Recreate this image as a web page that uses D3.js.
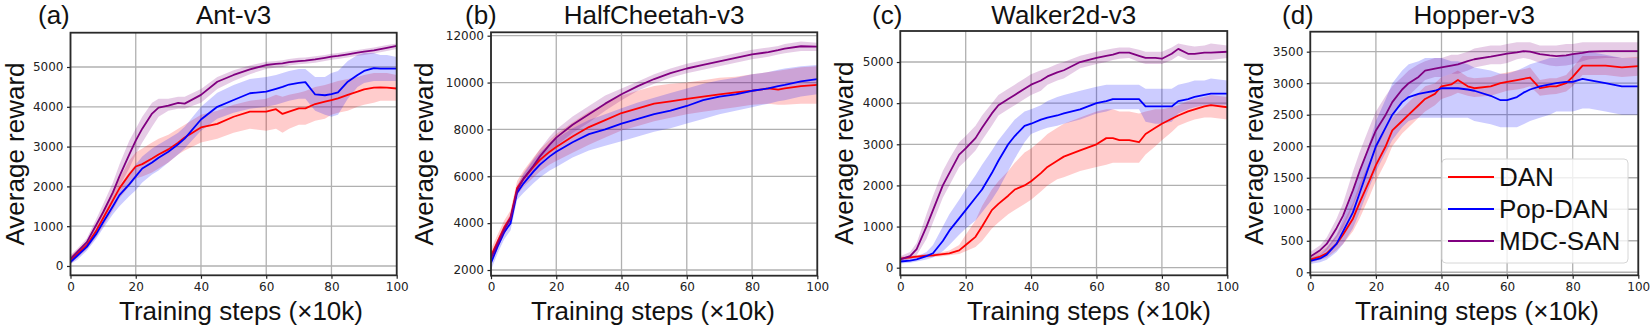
<!DOCTYPE html>
<html><head><meta charset="utf-8">
<script src="https://cdn.jsdelivr.net/npm/d3@7"></script>
<style>body{margin:0;background:#fff}svg{display:block}</style>
</head><body><svg id="chart" width="1651" height="329"></svg>
<script>
// ---------------- data ----------------
const seriesNames = ["DAN", "Pop-DAN", "MDC-SAN"];
const xTicks = [0, 20, 40, 60, 80, 100];
const xLabel = "Training steps (\u00d710k)";
const yLabel = "Average reward";

// (a) Ant-v3
const antSteps = [0,2,5,8,10,13,15,18,20,22,25,27,30,33,35,40,45,50,55,60,63,65,67,70,72,75,78,80,82,85,88,90,93,95,97,100];
const antDAN   = [150,300,520,900,1200,1650,1950,2300,2500,2560,2700,2800,2930,3100,3230,3480,3570,3750,3880,3880,3940,3820,3880,3960,3960,4070,4130,4170,4210,4300,4380,4440,4480,4490,4480,4460];
const antDANLo = [50,200,420,750,1000,1400,1700,2000,2200,2250,2350,2450,2600,2800,2900,3100,3200,3350,3450,3400,3450,3350,3450,3550,3550,3650,3700,3800,3850,3900,4000,4050,4100,4150,4150,4150];
const antDANHi = [250,400,620,1050,1400,1900,2200,2650,2850,2950,3100,3200,3300,3450,3550,3800,3900,4050,4150,4200,4300,4250,4300,4350,4400,4500,4550,4600,4650,4700,4750,4800,4850,4850,4850,4800];
const antPop   = [100,250,480,820,1100,1500,1780,2050,2250,2450,2600,2720,2870,3060,3200,3680,4000,4170,4340,4380,4450,4500,4560,4600,4620,4310,4290,4320,4360,4630,4800,4900,4970,4960,4960,4960];
const antPopLo = [50,150,380,700,950,1300,1500,1750,1900,2100,2300,2400,2600,2800,2950,3400,3700,3850,3950,4000,4050,4100,4150,4200,4200,3900,3800,3750,3800,4200,4500,4600,4650,4650,4650,4650];
const antPopHi = [200,350,580,950,1250,1700,2000,2350,2550,2750,2950,3050,3200,3350,3500,4000,4350,4550,4700,4750,4800,4850,4900,4950,4950,4750,4750,4850,4900,5150,5300,5350,5350,5300,5300,5250];
const antMDC   = [180,350,600,1050,1350,1850,2250,2800,3150,3450,3830,3980,4030,4100,4080,4300,4630,4800,4940,5050,5080,5090,5120,5150,5160,5190,5230,5260,5280,5320,5360,5385,5420,5450,5480,5530];
const antMDCLo = [100,270,520,900,1200,1650,2000,2450,2800,3100,3500,3750,3900,3950,3950,4100,4450,4650,4820,4950,4990,5000,5040,5070,5080,5110,5150,5180,5200,5240,5280,5300,5340,5370,5400,5450];
const antMDCHi = [280,430,700,1200,1550,2100,2550,3150,3450,3750,4100,4200,4200,4250,4250,4450,4750,4920,5040,5130,5150,5170,5200,5230,5240,5270,5300,5330,5350,5390,5430,5450,5490,5520,5550,5590];
const antYTicks = [0,1000,2000,3000,4000,5000];

// (b) HalfCheetah-v3
const cheetahSteps = [0,2,4,6,8,10,13,15,18,20,25,30,35,40,45,50,55,60,65,70,75,80,85,88,90,95,100];
const cheetahDAN   = [2600,3200,3800,4250,5500,5900,6400,6700,7050,7250,7700,8100,8400,8700,8900,9100,9200,9300,9400,9500,9580,9650,9750,9700,9750,9850,9900];
const cheetahDANLo = [2300,2900,3500,3950,5200,5550,5950,6200,6500,6650,7000,7350,7650,7950,8150,8350,8500,8650,8750,8850,8950,9050,9100,9050,9050,9100,9100];
const cheetahDANHi = [2900,3500,4100,4550,5800,6250,6800,7150,7550,7800,8300,8750,9100,9450,9650,9850,9950,10000,10100,10200,10250,10350,10450,10500,10550,10650,10700];
const cheetahPop   = [2300,3000,3600,4000,5300,5700,6200,6500,6850,7050,7450,7800,8000,8250,8450,8650,8800,9000,9250,9400,9500,9650,9750,9850,9900,10050,10150];
const cheetahPopLo = [2000,2700,3300,3700,5000,5300,5700,5950,6250,6400,6800,7100,7300,7500,7700,7900,8050,8250,8450,8650,8800,8950,9100,9200,9250,9400,9500];
const cheetahPopHi = [2600,3300,3900,4300,5600,6100,6700,7000,7400,7600,8050,8400,8650,8900,9150,9350,9550,9750,9950,10100,10200,10350,10450,10550,10600,10700,10750];
const cheetahMDC   = [2500,3100,3700,4200,5400,5900,6450,6850,7350,7650,8200,8650,9100,9500,9850,10150,10400,10600,10750,10900,11050,11200,11300,11380,11450,11550,11530];
const cheetahMDCLo = [2300,2900,3500,4000,5200,5700,6200,6550,7000,7300,7850,8300,8800,9250,9650,9950,10200,10400,10550,10700,10850,11000,11100,11200,11250,11350,11350];
const cheetahMDCHi = [2700,3300,3900,4400,5600,6150,6750,7150,7700,8000,8550,9000,9450,9750,10050,10350,10600,10800,10950,11100,11250,11400,11500,11560,11650,11750,11700];
const cheetahYTicks = [2000,4000,6000,8000,10000,12000];

// (c) Walker2d-v3
const walkerSteps = [0,3,5,8,10,13,15,18,20,23,25,28,30,33,35,38,40,43,45,48,50,55,60,63,65,67,70,73,75,78,80,83,85,88,90,93,95,100];
const walkerDAN   = [220,250,270,290,300,330,350,420,550,750,1000,1400,1550,1750,1900,2000,2100,2300,2450,2600,2700,2850,3000,3150,3150,3100,3100,3050,3250,3400,3500,3620,3700,3800,3850,3920,3950,3900];
const walkerDANLo = [180,210,230,250,260,280,300,330,400,500,650,950,1100,1300,1400,1550,1650,1850,2000,2150,2200,2350,2450,2500,2550,2550,2550,2550,2750,2950,3100,3300,3450,3550,3600,3650,3650,3600];
const walkerDANHi = [260,290,310,330,340,380,420,550,800,1150,1500,1900,2100,2350,2550,2800,2900,3100,3250,3400,3500,3650,3800,3850,3850,3800,3800,3750,3800,3850,3850,3900,3950,4050,4100,4150,4200,4150];
const walkerPop   = [150,170,200,280,350,650,900,1200,1400,1700,1900,2300,2600,3000,3200,3450,3500,3600,3650,3700,3750,3850,4000,4050,4100,4100,4100,4100,3920,3920,3920,3920,4050,4100,4150,4200,4230,4230];
const walkerPopLo = [100,120,150,200,250,400,550,800,950,1150,1350,1650,1900,2350,2650,3050,3250,3350,3400,3450,3500,3600,3750,3800,3850,3850,3850,3850,3550,3500,3500,3550,3750,3850,3900,3950,3950,3950];
const walkerPopHi = [200,230,270,380,550,1000,1300,1650,1900,2250,2500,2850,3100,3400,3600,3800,3850,3950,4050,4150,4200,4300,4400,4450,4450,4450,4450,4450,4350,4350,4350,4350,4450,4500,4550,4550,4600,4550];
const walkerMDC   = [200,280,450,1000,1400,2000,2300,2750,2900,3150,3400,3750,3950,4100,4200,4350,4450,4550,4650,4750,4800,5000,5100,5150,5180,5230,5230,5150,5100,5100,5080,5200,5320,5200,5200,5230,5230,5250];
const walkerMDCLo = [150,200,300,700,1100,1700,2000,2450,2600,2850,3100,3450,3700,3850,3950,4100,4200,4300,4450,4550,4600,4850,4950,5000,5050,5080,5100,5000,4950,4950,4950,5050,5150,5050,5050,5050,5050,5100];
const walkerMDCHi = [280,380,600,1300,1750,2350,2650,3050,3200,3450,3700,4000,4200,4350,4450,4600,4700,4800,4850,4950,5000,5150,5250,5300,5330,5350,5350,5300,5250,5250,5250,5350,5450,5400,5380,5400,5450,5400];
const walkerYTicks = [0,1000,2000,3000,4000,5000];

// (d) Hopper-v3
const hopperSteps = [0,3,5,8,10,13,15,18,20,23,25,28,30,33,35,38,40,43,45,48,50,55,58,60,63,65,67,70,73,75,78,80,83,85,90,95,100];
const hopperDAN   = [200,250,300,450,600,850,1100,1450,1700,2000,2250,2400,2500,2650,2750,2830,2950,2980,3050,2950,2920,2950,3000,3020,3050,3070,3090,2920,2950,2950,3000,3100,3280,3280,3280,3250,3270];
const hopperDANLo = [150,200,230,350,450,650,850,1200,1450,1750,2000,2200,2300,2450,2550,2650,2750,2800,2850,2800,2780,2800,2850,2880,2900,2920,2950,2800,2820,2830,2870,2950,3130,3130,3130,3100,3120];
const hopperDANHi = [270,320,400,580,780,1100,1400,1750,2000,2250,2450,2600,2700,2850,2950,3000,3100,3150,3200,3100,3080,3100,3150,3170,3200,3220,3250,3050,3080,3080,3130,3250,3430,3430,3430,3400,3420];
const hopperPop   = [180,220,280,450,650,950,1250,1700,2000,2300,2500,2700,2780,2830,2850,2880,2920,2920,2920,2900,2880,2800,2730,2730,2780,2850,2900,2950,2980,3000,3020,3020,3070,3050,3000,2950,2950];
const hopperPopLo = [130,160,200,320,450,700,950,1350,1600,1900,2100,2300,2400,2450,2450,2450,2450,2450,2450,2450,2400,2350,2300,2300,2300,2350,2400,2450,2500,2550,2550,2550,2600,2600,2550,2500,2500];
const hopperPopHi = [230,280,380,600,850,1250,1600,2050,2400,2750,3000,3200,3300,3350,3400,3400,3400,3350,3350,3300,3250,3200,3150,3150,3200,3250,3300,3350,3400,3400,3450,3450,3500,3500,3450,3400,3400];
const hopperMDC   = [250,350,450,700,900,1300,1600,2000,2250,2500,2700,2900,3000,3100,3200,3230,3250,3280,3300,3350,3380,3420,3450,3470,3490,3510,3500,3460,3440,3430,3440,3460,3480,3500,3510,3510,3510];
const hopperMDCLo = [180,270,350,550,700,1050,1300,1700,1950,2250,2450,2700,2800,2950,3050,3100,3100,3150,3150,3200,3250,3300,3300,3320,3380,3400,3380,3320,3280,3270,3280,3300,3350,3380,3400,3400,3400];
const hopperMDCHi = [320,430,550,850,1100,1600,1900,2300,2550,2800,2950,3100,3200,3300,3350,3400,3400,3450,3450,3500,3550,3600,3600,3620,3650,3650,3650,3600,3600,3600,3620,3620,3650,3650,3650,3650,3650];
const hopperYTicks = [0,500,1000,1500,2000,2500,3000,3500];

// ---------------- styling / layout ----------------
const colors = ["#ff0000", "#0000ff", "#800080"];
const panels = [
  {title:"Ant-v3", tag:"(a)", steps:antSteps,
   series:[[antDAN,antDANLo,antDANHi],[antPop,antPopLo,antPopHi],[antMDC,antMDCLo,antMDCHi]],
   yTicks:antYTicks, yDomain:[-234,5862],
   box:{l:70.5,t:32.7,r:396.7,b:275.3}, tagX:38, yLabelX:24, xLabelX:241},
  {title:"HalfCheetah-v3", tag:"(b)", steps:cheetahSteps,
   series:[[cheetahDAN,cheetahDANLo,cheetahDANHi],[cheetahPop,cheetahPopLo,cheetahPopHi],[cheetahMDC,cheetahMDCLo,cheetahMDCHi]],
   yTicks:cheetahYTicks, yDomain:[1757,12145],
   box:{l:491,t:32.3,r:817.3,b:275.7}, tagX:465, yLabelX:433, xLabelX:653},
  {title:"Walker2d-v3", tag:"(c)", steps:walkerSteps,
   series:[[walkerDAN,walkerDANLo,walkerDANHi],[walkerPop,walkerPopLo,walkerPopHi],[walkerMDC,walkerMDCLo,walkerMDCHi]],
   yTicks:walkerYTicks, yDomain:[-185,5754],
   box:{l:900.3,t:31,r:1227.3,b:275.3}, tagX:872, yLabelX:853, xLabelX:1089},
  {title:"Hopper-v3", tag:"(d)", steps:hopperSteps,
   series:[[hopperDAN,hopperDANLo,hopperDANHi],[hopperPop,hopperPopLo,hopperPopHi],[hopperMDC,hopperMDCLo,hopperMDCHi]],
   yTicks:hopperYTicks, yDomain:[-48,3817],
   box:{l:1310.3,t:31.7,r:1638.3,b:275.3}, tagX:1282, yLabelX:1263, xLabelX:1477, legend:true}
];

const svg = d3.select("#chart");
const bigFont = "'Liberation Sans', Arial, sans-serif";
const tickFont = "'DejaVu Sans', sans-serif";

panels.forEach((p, pi) => {
  const {l,t,r,b} = p.box;
  const x = d3.scaleLinear().domain([0,100]).range([l,r]);
  const y = d3.scaleLinear().domain(p.yDomain).range([b,t]);
  const g = svg.append("g");

  const clipId = "clip" + pi;
  g.append("clipPath").attr("id", clipId).append("rect")
    .attr("x", l).attr("y", t).attr("width", r-l).attr("height", b-t);

  // grid
  g.append("g").selectAll("line").data(xTicks).join("line")
    .attr("x1", d=>x(d)).attr("x2", d=>x(d)).attr("y1", t).attr("y2", b)
    .attr("stroke", "#b0b0b0").attr("stroke-width", 1.3);
  g.append("g").selectAll("line").data(p.yTicks).join("line")
    .attr("x1", l).attr("x2", r).attr("y1", d=>y(d)).attr("y2", d=>y(d))
    .attr("stroke", "#b0b0b0").attr("stroke-width", 1.3);

  const plot = g.append("g").attr("clip-path", `url(#${clipId})`);
  const area = d3.area().x((d,i)=>x(p.steps[i])).y0(d=>y(d[0])).y1(d=>y(d[1]));
  const line = d3.line().x((d,i)=>x(p.steps[i])).y(d=>y(d));

  p.series.forEach((s, si) => {
    const band = s[1].map((lo,i)=>[lo, s[2][i]]);
    plot.append("path").datum(band).attr("d", area)
      .attr("fill", colors[si]).attr("fill-opacity", 0.2).attr("stroke", "none");
  });
  p.series.forEach((s, si) => {
    plot.append("path").datum(s[0]).attr("d", line)
      .attr("fill", "none").attr("stroke", colors[si]).attr("stroke-width", 1.8)
      .attr("stroke-linejoin", "round");
  });

  // axes
  const xAxis = d3.axisBottom(x).tickValues(xTicks).tickSize(3.5).tickPadding(3.5).tickFormat(d3.format("d"));
  const gx = g.append("g").attr("transform", `translate(0,${b})`).call(xAxis);
  const yAxis = d3.axisLeft(y).tickValues(p.yTicks).tickSize(3.5).tickPadding(3.5).tickFormat(d3.format("d"));
  const gy = g.append("g").attr("transform", `translate(${l},0)`).call(yAxis);
  [gx, gy].forEach(ax => {
    ax.select(".domain").remove();
    ax.selectAll(".tick line").attr("stroke", "#222").attr("stroke-width", 1.2);
    ax.selectAll(".tick text").attr("fill", "#222").attr("font-family", tickFont).attr("font-size", 12);
  });

  // frame
  g.append("rect").attr("x", l).attr("y", t).attr("width", r-l).attr("height", b-t)
    .attr("fill", "none").attr("stroke", "#2a2a2a").attr("stroke-width", 1.8);

  // texts
  g.append("text").attr("x", (l+r)/2).attr("y", 24).attr("text-anchor", "middle")
    .attr("font-family", bigFont).attr("font-size", 26).attr("fill", "#111").text(p.title);
  g.append("text").attr("x", p.tagX).attr("y", 24)
    .attr("font-family", bigFont).attr("font-size", 26).attr("fill", "#111").text(p.tag);
  g.append("text").attr("x", p.xLabelX).attr("y", 320).attr("text-anchor", "middle")
    .attr("font-family", bigFont).attr("font-size", 26).attr("fill", "#111").text(xLabel);
  g.append("text").attr("transform", `translate(${p.yLabelX},${(t+b)/2}) rotate(-90)`)
    .attr("text-anchor", "middle")
    .attr("font-family", bigFont).attr("font-size", 26).attr("fill", "#111").text(yLabel);

  if (p.legend) {
    const lg = g.append("g");
    lg.append("rect").attr("x", 1442).attr("y", 159).attr("width", 186).attr("height", 104)
      .attr("rx", 4).attr("fill", "#fff").attr("fill-opacity", 0.8)
      .attr("stroke", "#d6d6d6").attr("stroke-width", 1);
    seriesNames.forEach((name, i) => {
      const yy = 177 + i*32;
      lg.append("line").attr("x1", 1448).attr("x2", 1494).attr("y1", yy).attr("y2", yy)
        .attr("stroke", colors[i]).attr("stroke-width", 1.8);
      lg.append("text").attr("x", 1499).attr("y", yy).attr("dy", "0.36em")
        .attr("font-family", bigFont).attr("font-size", 26).attr("fill", "#111").text(name);
    });
  }
});
</script>
</body></html>
